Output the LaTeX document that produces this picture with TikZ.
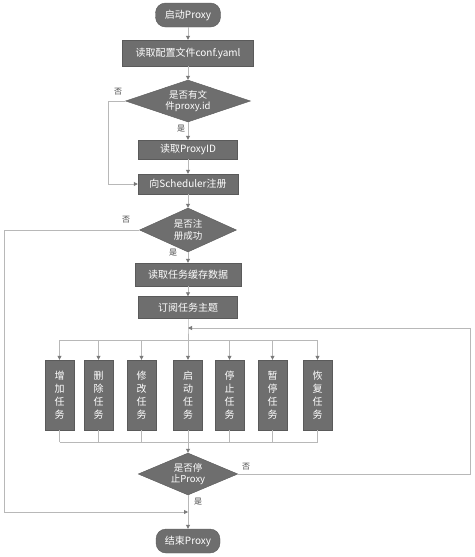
\documentclass[tikz,border=0pt]{standalone}
\usepackage{fontspec}
\setmainfont{Noto Sans CJK SC}
\usetikzlibrary{shapes.geometric,arrows.meta}
\definecolor{boxfill}{HTML}{6E6E6E}
\definecolor{boxline}{HTML}{5A5A5A}
\definecolor{conn}{HTML}{B8B8B8}
\definecolor{tipc}{HTML}{7A7A7A}
\definecolor{lab}{HTML}{444444}
\begin{document}
\begin{tikzpicture}[x=1pt,y=-1pt,
  box/.style={draw=boxline,fill=boxfill,text=white,inner sep=0pt,font=\fontsize{10}{12}\selectfont},
  term/.style={box,rounded corners=10pt},
  dec/.style={box,diamond,aspect=3,align=center,font=\fontsize{9.5}{11.5}\selectfont},
  vbox/.style={box,minimum width=29pt,minimum height=70pt,align=center,font=\fontsize{10}{13}\selectfont},
  conn/.style={draw=conn,line width=0.8pt},
  arr/.style={conn,-{Triangle[width=4pt,length=4pt,color=tipc]}},
  lbl/.style={font=\fontsize{8}{9}\selectfont,text=lab,inner sep=0pt}
]
\useasboundingbox (0,0) rectangle (474,557);
\fill[white] (0,0) rectangle (474,557);

\node[term,minimum width=65pt,minimum height=24pt] (start) at (188,15) {启动Proxy};
\node[box,minimum width=131pt,minimum height=26pt] (conf) at (188,53) {读取配置文件conf.yaml};
\node[dec,minimum width=125pt,minimum height=42pt] (d1) at (188,101) {是否有文\\件proxy.id};
\node[box,minimum width=99pt,minimum height=19pt] (pid) at (188,149.5) {读取ProxyID};
\node[box,minimum width=100pt,minimum height=20pt] (sched) at (188,184) {向Scheduler注册};
\node[dec,minimum width=97pt,minimum height=44pt] (d2) at (188,230) {是否注\\册成功};
\node[box,minimum width=106pt,minimum height=23pt] (cache) at (188,274.5) {读取任务缓存数据};
\node[box,minimum width=99pt,minimum height=22pt] (sub) at (188,307.5) {订阅任务主题};

\node[vbox] (t1) at (59.5,395) {增\\加\\任\\务};
\node[vbox] (t2) at (98.5,395) {删\\除\\任\\务};
\node[vbox] (t3) at (141.5,395) {修\\改\\任\\务};
\node[vbox] (t4) at (188,395) {启\\动\\任\\务};
\node[vbox] (t5) at (229.5,395) {停\\止\\任\\务};
\node[vbox] (t6) at (272.5,395) {暂\\停\\任\\务};
\node[vbox] (t7) at (317.5,395) {恢\\复\\任\\务};

\node[dec,minimum width=99pt,minimum height=42pt] (d3) at (188,474) {是否停\\止Proxy};
\node[term,minimum width=64pt,minimum height=24pt] (stop) at (188,541) {结束Proxy};

\coordinate (m) at (188,328);
\coordinate (top) at (188,340);
\coordinate (bot) at (188,442);
\coordinate (j) at (188,512);

\draw[arr] (start) -- (conf);
\draw[arr] (conf) -- (d1);
\draw[arr] (d1) -- (pid);
\draw[arr] (pid) -- (sched);
\draw[arr] (d1.west) -- (108,101) -- (108,184) -- (sched.west);
\draw[arr] (sched) -- (d2);
\draw[arr] (d2) -- (cache);
\draw[arr] (d2.west) -- (4,230) -- (4,512) -- (j);
\draw[arr] (cache) -- (sub);
\draw[conn] (sub) -- (m) -- (top);
\draw[arr] (d3.east) -- (470,474) -- (470,328) -- (m);

\draw[conn] (t1.north |- top) -- (t7.north |- top);
\draw[conn] (t1.south |- bot) -- (t7.south |- bot);
\foreach \t in {t1,t2,t3,t4,t5,t6,t7}{
  \draw[arr] (\t.north |- top) -- (\t.north);
  \draw[conn] (\t.south) -- (\t.south |- bot);
}
\draw[arr] (bot) -- (d3);
\draw[arr] (d3) -- (stop);

\node[lbl] at (118,92) {否};
\node[lbl] at (181,129) {是};
\node[lbl] at (126,220) {否};
\node[lbl] at (173,253) {是};
\node[lbl] at (246,467) {否};
\node[lbl] at (198,502) {是};
\end{tikzpicture}
\end{document}
